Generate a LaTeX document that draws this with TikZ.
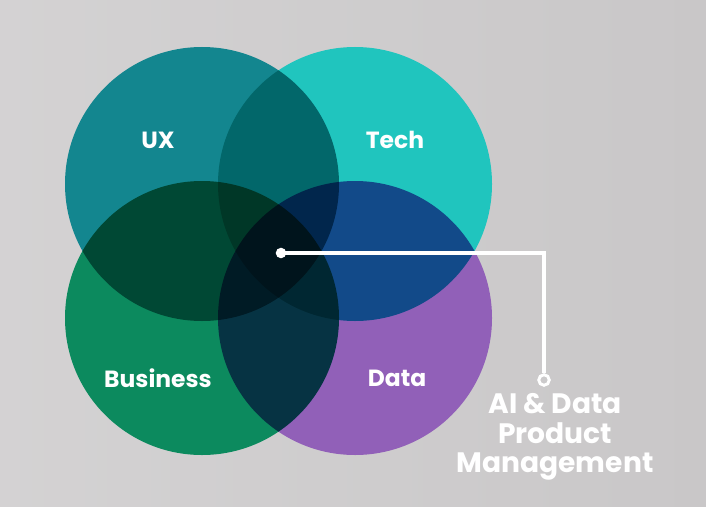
\documentclass[tikz,border=0pt]{standalone}
\usepackage{fontspec}
\setmainfont{Poppins}
\definecolor{uxc}{HTML}{13868F}
\definecolor{techc}{HTML}{20C5BE}
\definecolor{busc}{HTML}{0C8A5E}
\definecolor{datac}{HTML}{9160B8}
\definecolor{bgc}{HTML}{C9C7C8}
\begin{document}
\begin{tikzpicture}[x=0.03cm,y=-0.03cm,
    petal/.style={fill=#1,blend mode=multiply},
    tag/.style={text=white,font=\bfseries\fontsize{20}{24}\selectfont},
    link/.style={white,line width=3pt}]
  \shade[left color=bgc!80!white,right color=bgc] (0,0) rectangle (706,506);
  \begin{scope}[transparency group]
    \fill[petal=uxc] (202,184) circle[radius=137];
    \fill[petal=techc] (355,184) circle[radius=137];
    \fill[petal=busc] (202,318) circle[radius=137];
    \fill[petal=datac] (355,318) circle[radius=137];
  \end{scope}
  \node[tag] (ux) at (158,140) {UX};
  \node[tag] (tech) at (395,140) {Tech};
  \node[tag] (bus) at (158,378) {Business};
  \node[tag] (data) at (397,378) {Data};
  \node[circle,fill=white,inner sep=0pt,minimum size=9pt] (dot) at (281,253) {};
  \node[circle,draw=white,line width=2.5pt,inner sep=0pt,minimum size=9pt] (ring) at (544,380) {};
  \draw[link] (dot.center) -| (ring.north);
  \node[align=center,text=white,font=\bfseries\fontsize{24}{25}\selectfont] (pm) at (555,437)
    {AI \& Data\\Product\\Management};
\end{tikzpicture}
\end{document}
